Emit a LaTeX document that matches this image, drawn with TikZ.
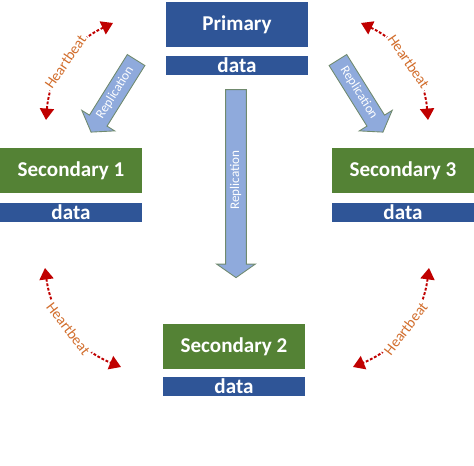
\documentclass[tikz,border=0pt]{standalone}
\usepackage{fontspec}
\setmainfont{Carlito}
\usetikzlibrary{positioning,shapes.arrows,arrows.meta}
\definecolor{boxblue}{RGB}{47,85,151}
\definecolor{boxgreen}{RGB}{84,130,53}
\definecolor{replblue}{RGB}{143,170,220}
\definecolor{repledge}{RGB}{112,138,110}
\definecolor{beatred}{RGB}{192,0,0}
\definecolor{beatorange}{RGB}{210,110,45}

\begin{document}
\begin{tikzpicture}[
  server/.style={text=white,font=\bfseries\fontsize{12}{14}\selectfont,minimum height=0.9cm,minimum width=2.84cm,inner sep=0pt},
  databar/.style={fill=boxblue,text=white,font=\bfseries\fontsize{12}{14}\selectfont,minimum height=0.38cm,minimum width=2.84cm,inner sep=0pt,text height=8pt,text depth=0pt},
  repl/.style={single arrow,fill=replblue,draw=repledge,line width=0.5pt,text=white,font=\fontsize{7.5}{8}\selectfont,text height=5pt,text depth=1.5pt,inner xsep=1pt,inner ysep=2.4pt,single arrow head extend=0.18cm,single arrow tip angle=110},
  beat/.style={beatred,line width=1.1pt,dash pattern=on 1.6pt off 1pt,{Triangle[width=8pt,length=6.5pt]}-{Triangle[width=8pt,length=6.5pt]}},
  beattext/.style={midway,sloped,fill=white,inner sep=1pt,text=beatorange,font=\fontsize{8.5}{9}\selectfont}
]
\useasboundingbox (0,0) rectangle (9.48,-9.30);

\node[server,fill=boxblue] (primary) at (4.74,-0.5) {Primary};
\node[databar,below=0.16cm of primary] (primarydata) {data};

\node[server,fill=boxgreen] (second1) at (1.42,-3.41) {Secondary 1};
\node[databar,below=0.18cm of second1] (second1data) {data};

\node[server,fill=boxgreen] (second3) at (8.06,-3.41) {Secondary 3};
\node[databar,below=0.18cm of second3] (second3data) {data};

\node[server,fill=boxgreen] (second2) at (4.68,-6.93) {Secondary 2};
\node[databar,below=0.14cm of second2] (second2data) {data};

\node[repl,rotate=90,shape border rotate=180,minimum height=3.76cm] (replmid) at (4.72,-3.60) {Replication};
\node[repl,rotate=58,shape border rotate=180,minimum height=1.7cm] (replleft) at (2.31,-1.86) {Replication};
\node[repl,rotate=-58,minimum height=1.7cm] (replright) at (7.17,-1.86) {Replication};

\coordinate (beat1a) at (2.26,-0.46);
\coordinate (beat1b) at (0.92,-2.40);
\draw[beat] (beat1a) to[bend right=30] node[beattext]{Heartbeat} (beat1b);

\coordinate (beat3a) at (7.22,-0.46);
\coordinate (beat3b) at (8.56,-2.40);
\draw[beat] (beat3a) to[bend left=30] node[beattext]{Heartbeat} (beat3b);

\coordinate (beat2a) at (0.90,-5.36);
\coordinate (beat2b) at (2.42,-7.34);
\draw[beat] (beat2a) to[bend right=30] node[beattext]{Heartbeat} (beat2b);

\coordinate (beat4a) at (8.58,-5.36);
\coordinate (beat4b) at (7.06,-7.34);
\draw[beat] (beat4a) to[bend left=30] node[beattext]{Heartbeat} (beat4b);
\end{tikzpicture}
\end{document}
